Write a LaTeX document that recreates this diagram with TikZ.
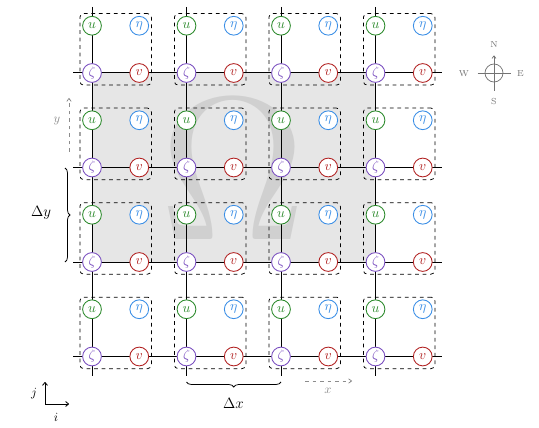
\documentclass[tikz,border=0pt]{standalone}
\usepackage{graphicx}
\usetikzlibrary{fit,calc,decorations.pathreplacing,arrows.meta}
\definecolor{ucol}{HTML}{2E8B2E}
\definecolor{ecol}{HTML}{3A8EE6}
\definecolor{zcol}{HTML}{7A4FC0}
\definecolor{vcol}{HTML}{B22222}
\definecolor{domaingray}{HTML}{E6E6E6}
\definecolor{omegagray}{HTML}{D0D0D0}
\tikzset{
  var/.style={circle, draw=#1, text=#1, fill=white, line width=0.7pt, minimum size=15pt, inner sep=0pt, font=\fontsize{11}{13}\selectfont},
  helper/.style={circle, minimum size=15pt, inner sep=0pt},
  gridline/.style={line width=0.8pt, black},
  cellbox/.style={draw, dashed, line width=0.6pt, rounded corners=3pt, inner sep=2pt},
  graylab/.style={text=black!45},
  grayarrow/.style={black!45, dashed, line width=0.6pt, -{To[length=3pt,width=4pt]}},
  axisarrow/.style={line width=0.7pt, -{To[length=3pt,width=4.5pt]}},
  bigbrace/.style={decorate, decoration={brace, amplitude=4pt}, line width=0.6pt},
  compasslab/.style={text=black!55, font=\scriptsize},
  compassline/.style={black!55, line width=0.6pt}
}
\begin{document}
\begin{tikzpicture}[x=0.8pt, y=-0.8pt]
\useasboundingbox (0,0) rectangle (539,428);
% shaded domain
\fill[domaingray] (92,73) rectangle (375.5,262);
% Omega
\node[text=omegagray, inner sep=0pt] (omega) at (233,170) {\scalebox{16.3}{$\Omega$}};
% dashed cell boxes (fitted round invisible helper nodes)
\foreach \i in {0,...,3} {
  \foreach \j in {0,...,3} {
    \pgfmathsetmacro\X{92+94.5*\i}
    \pgfmathsetmacro\Y{73+94.5*\j}
    \path (\X,\Y) node[helper] (zb\i\j) {}
          (\X+47.25,\Y) node[helper] (vb\i\j) {}
          (\X,\Y-47.25) node[helper] (ub\i\j) {}
          (\X+47.25,\Y-47.25) node[helper] (eb\i\j) {};
    \node[cellbox, fit=(zb\i\j)(vb\i\j)(ub\i\j)(eb\i\j)] (box\i\j) {};
  }
}
% grid lines
\foreach \k in {0,...,3} {
  \pgfmathsetmacro\P{92+94.5*\k}
  \coordinate (hl\k) at (73,73+94.5*\k);
  \coordinate (hr\k) at (441.5,73+94.5*\k);
  \coordinate (vt\k) at (\P,7);
  \coordinate (vb\k) at (\P,375.5);
  \draw[gridline] (hl\k) -- (hr\k);
  \draw[gridline] (vt\k) -- (vb\k);
}
% variable nodes
\foreach \i in {0,...,3} {
  \foreach \j in {0,...,3} {
    \pgfmathsetmacro\X{92+94.5*\i}
    \pgfmathsetmacro\Y{73+94.5*\j}
    \node[var=zcol] (z\i\j) at (\X,\Y) {$\zeta$};
    \node[var=vcol] (v\i\j) at (\X+47.25,\Y) {$v$};
    \node[var=ucol] (u\i\j) at (\X,\Y-47.25) {$u$};
    \node[var=ecol] (e\i\j) at (\X+47.25,\Y-47.25) {$\eta$};
  }
}
% y arrow
\coordinate (ya) at (69,152);
\coordinate (yb) at (69,98);
\draw[grayarrow] (ya) -- (yb);
\node[graylab] (ylab) at (57,121) {$y$};
% x arrow
\coordinate (xa) at (305,381);
\coordinate (xb) at (352,381);
\draw[grayarrow] (xa) -- (xb);
\node[graylab] (xlab) at (328,391) {$x$};
% braces
\coordinate (dxa) at (186.5,382);
\coordinate (dxb) at (281,382);
\draw[bigbrace] (dxb) -- (dxa);
\node[font=\fontsize{13}{15}\selectfont] (dxlab) at (233.5,403) {$\Delta x$};
\coordinate (dya) at (65,262);
\coordinate (dyb) at (65,168);
\draw[bigbrace] (dyb) -- (dya);
\node[font=\fontsize{13}{15}\selectfont] (dylab) at (41,213) {$\Delta y$};
% i j axes
\coordinate (o) at (45,404);
\coordinate (oj) at (45,382);
\coordinate (oi) at (69,404);
\draw[axisarrow] (o) -- (oj);
\draw[axisarrow] (o) -- (oi);
\node (jlab) at (34,394) {$j$};
\node (ilab) at (56,417) {$i$};
% compass
\node[circle, draw=black!55, line width=0.6pt, minimum size=14.4pt, inner sep=0pt] (comp) at (494,73) {};
\coordinate (cw) at (477.5,73);
\coordinate (ce) at (510.5,73);
\coordinate (cn) at (494,55.5);
\coordinate (cs) at (494,91);
\draw[compassline] (cw) -- (ce);
\draw[compassline] (cs) -- (comp.center);
\draw[compassline, -{To[length=2.5pt,width=3.5pt]}] (comp.center) -- (cn);
\node[compasslab] (N) at (494,45) {N};
\node[compasslab] (S) at (494,102) {S};
\node[compasslab] (W) at (464,73.5) {W};
\node[compasslab] (E) at (520.5,73.5) {E};
\end{tikzpicture}
\end{document}
